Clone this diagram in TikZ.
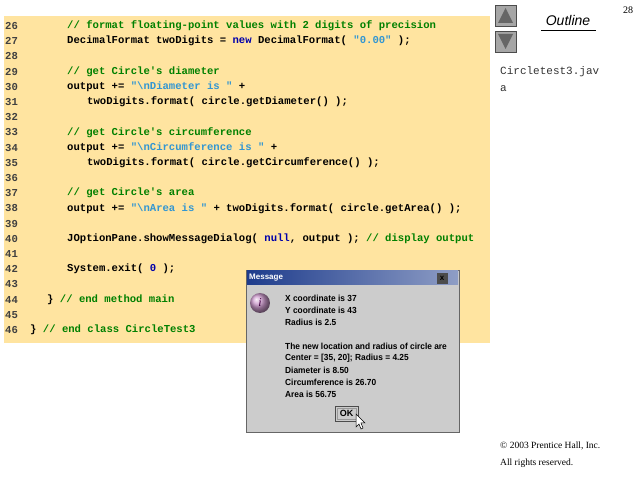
\documentclass[tikz,border=0pt]{standalone}
\usepackage{fontspec}
\setmainfont{Liberation Serif}
\setsansfont{Liberation Sans}
\setmonofont{Liberation Mono}
\definecolor{panel}{RGB}{255,228,160}
\definecolor{cgreen}{RGB}{0,128,0}
\definecolor{ckw}{RGB}{0,0,170}
\definecolor{cstr}{RGB}{50,150,210}
\definecolor{dlg}{RGB}{204,204,204}
\definecolor{tbar}{RGB}{30,60,140}
\newcommand{\cmt}[1]{\textcolor{cgreen}{#1}}
\newcommand{\kwd}[1]{\textcolor{ckw}{#1}}
\newcommand{\str}[1]{\textcolor{cstr}{#1}}
\begin{document}
\begin{tikzpicture}[x=1pt,y=-1pt,
  code/.style={anchor=west,inner sep=0pt,font=\fontsize{10.6}{12}\ttfamily\bfseries},
  lnum/.style={anchor=west,inner sep=0pt,font=\fontsize{10.6}{12}\ttfamily\bfseries,text=black!75},
  dtxt/.style={anchor=west,inner sep=0pt,font=\fontsize{8.8}{10}\sffamily\bfseries,xscale=0.95},
  btn/.style={draw=black!70,fill=black!35,line width=0.6pt}]
\useasboundingbox (0,0) rectangle (638,478);
\fill[panel] (4,16) rectangle (490,343);
\foreach \n [count=\i from 0] in {26,...,46}
  \node[lnum] (n\n) at (5,26+15.2*\i) {\n};
\node[code] (c26) at (67,26) {\cmt{// format floating-point values with 2 digits of precision}};
\node[code] (c27) at (67,41.2) {DecimalFormat twoDigits = \kwd{new} DecimalFormat( \str{"0.00"} );};
\node[code] (c29) at (67,71.6) {\cmt{// get Circle's diameter}};
\node[code] (c30) at (67,86.8) {output += \str{"\textbackslash nDiameter is "} +};
\node[code] (c31) at (87,102) {twoDigits.format( circle.getDiameter() );};
\node[code] (c33) at (67,132.4) {\cmt{// get Circle's circumference}};
\node[code] (c34) at (67,147.6) {output += \str{"\textbackslash nCircumference is "} +};
\node[code] (c35) at (87,162.8) {twoDigits.format( circle.getCircumference() );};
\node[code] (c37) at (67,193.2) {\cmt{// get Circle's area}};
\node[code] (c38) at (67,208.4) {output += \str{"\textbackslash nArea is "} + twoDigits.format( circle.getArea() );};
\node[code] (c40) at (67,238.8) {JOptionPane.showMessageDialog( \kwd{null}, output ); \cmt{// display output}};
\node[code] (c42) at (67,269.2) {System.exit( \kwd{0} );};
\node[code] (c44) at (47,299.6) {\} \cmt{// end method main}};
\node[code] (c46) at (30,330) {\} \cmt{// end class CircleTest3}};
% dialog
\fill[dlg] (246,270) rectangle (459,432);
\draw[black!60] (246,270) rectangle (459,432);
\shade[left color=tbar,right color=tbar!50!white] (247,271) rectangle (458,285);
\node[anchor=west,inner sep=0pt,font=\fontsize{8}{9}\sffamily\bfseries,text=white] (title) at (249,278) {Message};
\draw[fill=dlg!80!white,black!70] (437,273) rectangle (447,283);
\node[inner sep=0pt,font=\fontsize{8}{9}\sffamily\bfseries] (x) at (442,278) {x};
\shade[ball color=violet!40!white] (260,303) circle (10);
\node[inner sep=0pt,font=\fontsize{12}{12}\rmfamily\itshape,text=violet!50!black] (info) at (260,303) {i};
\node[dtxt] (d1) at (285,298) {X coordinate is 37};
\node[dtxt] (d2) at (285,310) {Y coordinate is 43};
\node[dtxt] (d3) at (285,322) {Radius is 2.5};
\node[dtxt] (d4) at (285,346) {The new location and radius of circle are};
\node[dtxt] (d5) at (285,358) {Center = [35, 20]; Radius = 4.25};
\node[dtxt] (d6) at (285,370) {Diameter is 8.50};
\node[dtxt] (d7) at (285,382) {Circumference is 26.70};
\node[dtxt] (d8) at (285,394) {Area is 56.75};
\draw[black!70,fill=dlg] (335,406) rectangle (358,421);
\draw[black!40] (337,408) rectangle (356,419);
\node[inner sep=0pt,font=\fontsize{9}{10}\sffamily\bfseries] (ok) at (346.5,413.5) {OK};
\draw[fill=white,line width=0.5pt] (356,414) -- (356,427) -- (359,424) -- (361,429) -- (363,428) -- (361,423) -- (365,423) -- cycle;
% right side
\draw[btn] (495,5) rectangle (516,26);
\fill[black!60] (498,23) -- (505.5,8) -- (513,23) -- cycle;
\draw[btn] (495,31) rectangle (516,52);
\fill[black!60] (498,34) -- (505.5,49) -- (513,34) -- cycle;
\node[inner sep=0pt,font=\fontsize{14}{16}\sffamily\itshape] (outline) at (568,21) {Outline};
\draw (541,30) -- (596,30);
\node[inner sep=0pt,font=\fontsize{10}{12}\rmfamily] (page) at (628,10) {28};
\node[anchor=west,inner sep=0pt,font=\fontsize{11}{13}\ttfamily,text=black!80] (f1) at (500,72) {Circletest3.jav};
\node[anchor=west,inner sep=0pt,font=\fontsize{11}{13}\ttfamily,text=black!80] (f2) at (500,89) {a};
\node[anchor=west,inner sep=0pt,font=\fontsize{9.5}{11}\rmfamily] (cp1) at (500,446) {\copyright{} 2003 Prentice Hall, Inc.};
\node[anchor=west,inner sep=0pt,font=\fontsize{9.5}{11}\rmfamily] (cp2) at (500,463) {All rights reserved.};
\end{tikzpicture}
\end{document}
